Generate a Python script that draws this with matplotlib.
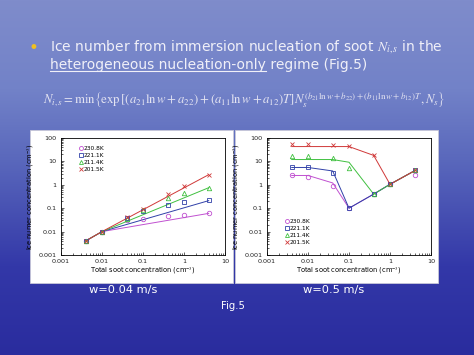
import matplotlib
matplotlib.use("Agg")
import matplotlib.pyplot as plt
import numpy as np
from matplotlib.colors import LinearSegmentedColormap
from matplotlib.lines import Line2D
from matplotlib.ticker import FuncFormatter, LogLocator, NullFormatter


# %% Data
soot = [0.004, 0.01, 0.04, 0.1, 0.4, 1, 4]
temps = ["230.8K", "221.1K", "211.4K", "201.5K"]

# w = 0.04 m/s : symbols and fitted lines
slow_pts = [
    [0.004, 0.01, 0.032, 0.033, 0.047, 0.053, 0.062],
    [0.004, 0.01, 0.038, 0.076, 0.14, 0.18, 0.22],
    [0.004, 0.01, 0.036, 0.083, 0.28, 0.43, 0.72],
    [0.004, 0.01, 0.042, 0.095, 0.39, 0.87, 2.5],
]
slow_fit_x = [0.004, 0.01, 4]
slow_fit = [
    [0.004, 0.01, 0.06],
    [0.004, 0.01, 0.21],
    [0.004, 0.01, 0.75],
    [0.004, 0.01, 2.7],
]

# w = 0.5 m/s
fast_pts = [
    [2.6, 2.25, 0.9, 0.1, 0.4, 1.05, 2.5],
    [5.9, 5.6, 3.3, 0.1, 0.4, 1.05, 4.2],
    [16.5, 16.5, 13.4, 5.1, 0.4, 1.05, 4.2],
    [57, 57, 52, 44, 18.5, 1.05, 4.2],
]
fast_fit = [
    [2.5, 2.5, 1.2, 0.1, 0.4, 1.05, 4.0],
    [5.5, 5.5, 3.9, 0.1, 0.4, 1.05, 4.0],
    [12, 12, 12, 9.2, 0.4, 1.05, 4.0],
    [43, 43, 43, 43, 18, 1.05, 4.0],
]

# %% Style
MARKERS = ["o", "s", "^", "x"]
COLORS = ["#c050d0", "#3040a8", "#40c040", "#d03838"]
TEXT_COLOR = "#f0f0f8"
TITLE_FS = 10
TICK_FS = 4.6

fig = plt.figure(figsize=(4.74, 3.55), dpi=100)

# background gradient (sky / sea)
bg = fig.add_axes([0, 0, 1, 1], zorder=-10)
cmap = LinearSegmentedColormap.from_list(
    "slide",
    [(0.0, "#7f8ccb"), (0.25, "#7282c8"), (0.45, "#5a68bc"),
     (0.75, "#3338a8"), (1.0, "#2a2c9e")],
)
grad = np.linspace(0, 1, 256).reshape(-1, 1)
bg.imshow(grad, aspect="auto", cmap=cmap, extent=[0, 1, 0, 1])
bg.axis("off")

# white panels behind the two charts
for left in (0.0633, 0.4958):
    fig.patches.append(
        plt.Rectangle((left, 0.2028), 0.428, 0.431, transform=fig.transFigure,
                      facecolor="white", edgecolor="#c8c8d8", linewidth=0.6,
                      zorder=-5)
    )

# %% Title text
plt.rcParams["mathtext.fontset"] = "stix"
fig.text(0.071, 0.864, "\u2022", color="#f0c020", fontsize=12,
         ha="center", va="center")
fig.text(0.105, 0.866,
         r"Ice number from immersion nucleation of soot $N_{i,s}$ in the",
         color=TEXT_COLOR, fontsize=TITLE_FS, va="center")
t1 = fig.text(0.105, 0.818, "heterogeneous nucleation-only",
              color=TEXT_COLOR, fontsize=TITLE_FS, va="center")
renderer = fig.canvas.get_renderer()
bb = t1.get_window_extent(renderer).transformed(fig.transFigure.inverted())
fig.add_artist(Line2D([bb.x0, bb.x1], [bb.y0 + 0.002, bb.y0 + 0.002],
                      color=TEXT_COLOR, linewidth=0.8,
                      transform=fig.transFigure))
fig.text(bb.x1, 0.818, " regime (Fig.5)", color=TEXT_COLOR,
         fontsize=TITLE_FS, va="center")

formula = (r"$N_{i,s}=\min\left\{\exp\left[(a_{21}\ln w+a_{22})+"
           r"(a_{11}\ln w+a_{12})T\right]N_s^{(b_{21}\ln w+b_{22})+"
           r"(b_{11}\ln w+b_{12})T},N_s\right\}$")
fig.text(0.09, 0.718, formula, color="#e4e4f2", fontsize=9.2, va="center")


# %% Charts
def draw_panel(rect, pts, fit_x, fit, legend_anchor, legend_loc):
    ax = fig.add_axes(rect)
    for i in range(len(temps)):
        ax.plot(fit_x, fit[i], color=COLORS[i], linewidth=0.7)
    for i in range(len(temps)):
        ax.plot(soot, pts[i], linestyle="none", marker=MARKERS[i],
                markersize=3.2, markerfacecolor="none",
                markeredgecolor=COLORS[i], markeredgewidth=0.6,
                label=temps[i])
    ax.set_xscale("log")
    ax.set_yscale("log")
    ax.set_xlim(0.001, 10)
    ax.set_ylim(0.001, 100)
    fmt = FuncFormatter(lambda v, _: "%g" % v)
    ax.xaxis.set_major_formatter(fmt)
    ax.yaxis.set_major_formatter(fmt)
    for axis in (ax.xaxis, ax.yaxis):
        axis.set_minor_locator(LogLocator(subs=np.arange(2, 10)))
        axis.set_minor_formatter(NullFormatter())
    ax.tick_params(which="both", direction="in", top=False, right=False,
                   labelsize=TICK_FS, colors="#202020", width=0.5, pad=3)
    ax.tick_params(which="major", length=2.5)
    ax.tick_params(which="minor", length=1.3)
    for s in ax.spines.values():
        s.set_linewidth(0.6)
    ax.set_xlabel(r"Total soot concentration (cm$^{-3}$)", fontsize=4.8,
                  labelpad=1)
    ax.set_ylabel(r"Ice numer concentration (cm$^{-3}$)", fontsize=4.8,
                  labelpad=2)
    ax.legend(loc=legend_loc, bbox_to_anchor=legend_anchor, frameon=False,
              fontsize=4.2, handlelength=0.5, handletextpad=0.2,
              labelspacing=0.35, borderpad=0.2, markerscale=0.9)
    return ax


draw_panel([0.1287, 0.2817, 0.346, 0.3296], slow_pts, slow_fit_x, slow_fit,
           (0.09, 0.97), "upper left")
draw_panel([0.5633, 0.2817, 0.346, 0.3296], fast_pts, soot, fast_fit,
           (0.09, 0.05), "lower left")

fig.text(0.26, 0.182, "w=0.04 m/s", color="white", fontsize=8.2,
         ha="center", va="center")
fig.text(0.703, 0.182, "w=0.5 m/s", color="white", fontsize=8.2,
         ha="center", va="center")
fig.text(0.492, 0.138, "Fig.5", color="white", fontsize=7.2,
         ha="center", va="center")

fig.savefig("out.png", dpi=100)
